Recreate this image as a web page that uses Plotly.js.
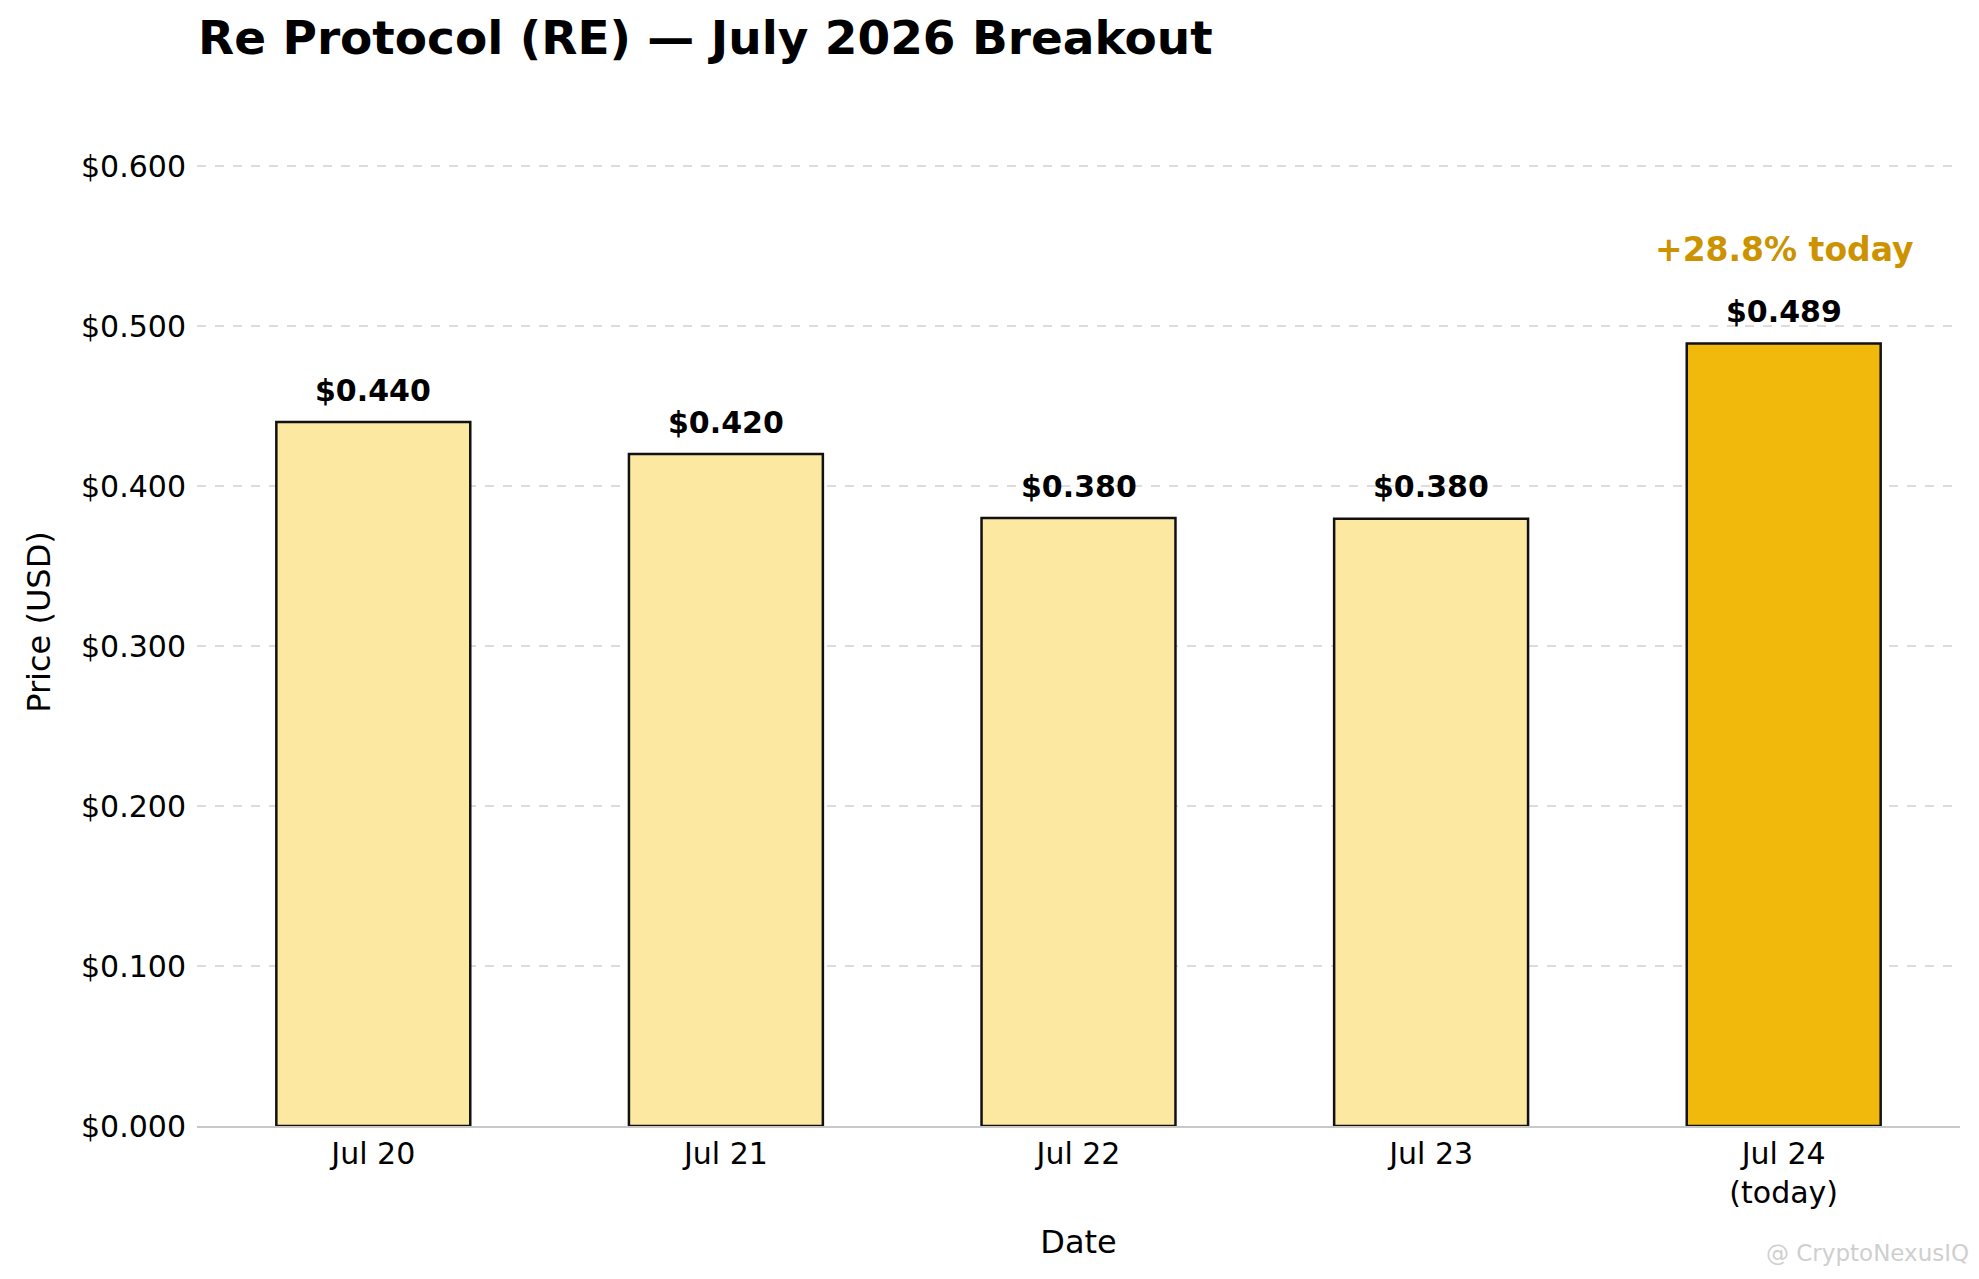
<!DOCTYPE html>
<html>
<head>
<meta charset="utf-8">
<script src="https://cdn.plot.ly/plotly-3.0.1.min.js"></script>
<style>html,body{margin:0;padding:0;background:#fff;overflow:hidden;}</style>
</head>
<body>
<div id="chart" style="width:1979px;height:1279px;"></div>
<script>
const categories = ["Jul 20", "Jul 21", "Jul 22", "Jul 23", "Jul 24<br>(today)"];
const prices = [0.440, 0.420, 0.380, 0.3796, 0.489];
const barColors = ["#FCE8A0", "#FCE8A0", "#FCE8A0", "#FCE8A0", "#F0B90B"];
const yTickValues = [0, 0.1, 0.2, 0.3, 0.4, 0.5, 0.6];
const yTickLabels = ["$0.000", "$0.100", "$0.200", "$0.300", "$0.400", "$0.500", "$0.600"];
const changeLabel = "+28.8% today";
const titleText = "Re Protocol (RE) — July 2026 Breakout";
const watermark = "@ CryptoNexusIQ";

const FONT = "DejaVu Sans, Verdana, sans-serif";
const xIdx = categories.map((_, i) => i);

const trace = {
  type: "bar",
  x: xIdx,
  y: prices,
  width: 0.55,
  marker: { color: barColors, line: { color: "#111111", width: 2.5 } },
  hoverinfo: "skip"
};

const annotations = prices.map((v, i) => ({
  x: i, y: v, xref: "x", yref: "y",
  text: "$" + v.toFixed(3),
  showarrow: false, yanchor: "middle", yshift: 32,
  font: { family: FONT, size: 30, color: "#000000", weight: "bold" }
}));
const last = prices.length - 1;
annotations.push({
  x: last, y: prices[last], xref: "x", yref: "y",
  text: changeLabel, showarrow: false, yanchor: "middle", yshift: 94,
  font: { family: FONT, size: 33, color: "#CC9200", weight: "bold" }
});
annotations.push({
  x: 1.0060, y: -0.126, xref: "paper", yref: "paper",
  xanchor: "right", yanchor: "middle", showarrow: false,
  text: watermark,
  font: { family: FONT, size: 23, color: "#cfcfcf" }
});

const layout = {
  width: 1979, height: 1279,
  margin: { l: 197, r: 19, t: 118, b: 153, pad: 0 },
  paper_bgcolor: "#ffffff", plot_bgcolor: "#ffffff",
  showlegend: false,
  title: {
    text: "<b>" + titleText + "</b>",
    x: 198 / 1979, xref: "container", xanchor: "left",
    y: 1 - 38 / 1279, yref: "container", yanchor: "middle",
    font: { family: FONT, size: 47, color: "#000000" }
  },
  xaxis: {
    range: [-0.5, 4.5],
    tickmode: "array", tickvals: xIdx, ticktext: categories,
    showgrid: false, zeroline: false,
    showline: true, linecolor: "#c8c8c8", linewidth: 2,
    ticks: "",
    tickfont: { family: FONT, size: 30, color: "#000000" },
    title: { text: "Date", font: { family: FONT, size: 32, color: "#000000" }, standoff: 22 },
    fixedrange: true
  },
  yaxis: {
    range: [0, 0.63],
    tickmode: "array", tickvals: yTickValues, ticktext: yTickLabels,
    showgrid: true, gridcolor: "#dcdcdc", gridwidth: 2, griddash: "dash",
    zeroline: false, showline: false,
    ticks: "outside", ticklen: 4, tickcolor: "rgba(0,0,0,0)",
    tickfont: { family: FONT, size: 30, color: "#000000" },
    title: { text: "Price (USD)", font: { family: FONT, size: 32, color: "#000000" }, standoff: 20 },
    fixedrange: true
  },
  annotations: annotations
};

Plotly.newPlot("chart", [trace], layout, { displayModeBar: false, staticPlot: true });
</script>
</body>
</html>
